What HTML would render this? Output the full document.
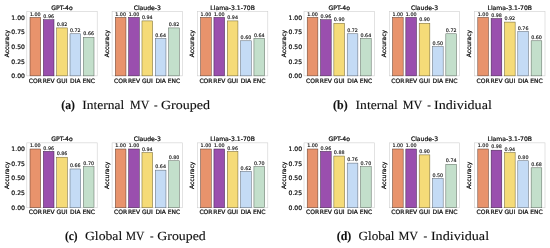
<!DOCTYPE html>
<html lang="en"><head><meta charset="utf-8"><title>Figure</title>
<style>html,body{margin:0;padding:0;background:#fff}svg{display:block}text{text-rendering:geometricPrecision}</style></head>
<body>
<svg width="550" height="248" viewBox="0 0 550 248">
<rect width="550" height="248" fill="#fff"/>
<g font-family="DejaVu Sans, Liberation Sans, sans-serif" fill="#111" stroke="#111" stroke-width="0.24">
<rect x="26.80" y="11.50" width="70.40" height="64.35" fill="#fff" stroke="#cfcfcf" stroke-width="0.6"/>
<text x="62.00" y="9.80" font-size="6.1" text-anchor="middle">GPT-4o</text>
<text transform="translate(8.50,43.67) rotate(-90)" font-size="6.0" text-anchor="middle">Accuracy</text>
<text x="24.90" y="78" font-size="6.1" text-anchor="end">0.00</text>
<text x="24.90" y="64" font-size="6.1" text-anchor="end">0.25</text>
<text x="24.90" y="49" font-size="6.1" text-anchor="end">0.50</text>
<text x="24.90" y="34" font-size="6.1" text-anchor="end">0.75</text>
<text x="24.90" y="20" font-size="6.1" text-anchor="end">1.00</text>
<rect x="30.00" y="17.40" width="10.67" height="58.45" fill="#E8936C" stroke="#5a3a2c" stroke-width="0.5"/>
<text x="35.33" y="15.60" font-size="4.8" stroke-width="0.14" text-anchor="middle">1.00</text>
<text x="35.33" y="82.80" font-size="6.0" text-anchor="middle">COR</text>
<rect x="43.33" y="19.74" width="10.67" height="56.11" fill="#9A4FAE" stroke="#3c2046" stroke-width="0.5"/>
<text x="48.67" y="17.94" font-size="4.8" stroke-width="0.14" text-anchor="middle">0.96</text>
<text x="48.67" y="82.80" font-size="6.0" text-anchor="middle">REV</text>
<rect x="56.67" y="27.92" width="10.67" height="47.93" fill="#F5DB78" stroke="#6a5f30" stroke-width="0.5"/>
<text x="62.00" y="26.12" font-size="4.8" stroke-width="0.14" text-anchor="middle">0.82</text>
<text x="62.00" y="82.80" font-size="6.0" text-anchor="middle">GUI</text>
<rect x="70.00" y="33.77" width="10.67" height="42.08" fill="#C4DBF5" stroke="#59636e" stroke-width="0.5"/>
<text x="75.33" y="31.97" font-size="4.8" stroke-width="0.14" text-anchor="middle">0.72</text>
<text x="75.33" y="82.80" font-size="6.0" text-anchor="middle">DIA</text>
<rect x="83.33" y="37.27" width="10.67" height="38.58" fill="#C3DFCB" stroke="#58645b" stroke-width="0.5"/>
<text x="88.67" y="35.47" font-size="4.8" stroke-width="0.14" text-anchor="middle">0.66</text>
<text x="88.67" y="82.80" font-size="6.0" text-anchor="middle">ENC</text>
<rect x="112.10" y="11.50" width="70.40" height="64.35" fill="#fff" stroke="#cfcfcf" stroke-width="0.6"/>
<text x="147.30" y="9.80" font-size="6.1" text-anchor="middle">Claude-3</text>
<text transform="translate(108.50,43.67) rotate(-90)" font-size="6.0" text-anchor="middle">Accuracy</text>
<rect x="115.30" y="17.40" width="10.67" height="58.45" fill="#E8936C" stroke="#5a3a2c" stroke-width="0.5"/>
<text x="120.63" y="15.60" font-size="4.8" stroke-width="0.14" text-anchor="middle">1.00</text>
<text x="120.63" y="82.80" font-size="6.0" text-anchor="middle">COR</text>
<rect x="128.63" y="17.40" width="10.67" height="58.45" fill="#9A4FAE" stroke="#3c2046" stroke-width="0.5"/>
<text x="133.97" y="15.60" font-size="4.8" stroke-width="0.14" text-anchor="middle">1.00</text>
<text x="133.97" y="82.80" font-size="6.0" text-anchor="middle">REV</text>
<rect x="141.97" y="20.91" width="10.67" height="54.94" fill="#F5DB78" stroke="#6a5f30" stroke-width="0.5"/>
<text x="147.30" y="19.11" font-size="4.8" stroke-width="0.14" text-anchor="middle">0.94</text>
<text x="147.30" y="82.80" font-size="6.0" text-anchor="middle">GUI</text>
<rect x="155.30" y="38.44" width="10.67" height="37.41" fill="#C4DBF5" stroke="#59636e" stroke-width="0.5"/>
<text x="160.63" y="36.64" font-size="4.8" stroke-width="0.14" text-anchor="middle">0.64</text>
<text x="160.63" y="82.80" font-size="6.0" text-anchor="middle">DIA</text>
<rect x="168.63" y="27.92" width="10.67" height="47.93" fill="#C3DFCB" stroke="#58645b" stroke-width="0.5"/>
<text x="173.97" y="26.12" font-size="4.8" stroke-width="0.14" text-anchor="middle">0.82</text>
<text x="173.97" y="82.80" font-size="6.0" text-anchor="middle">ENC</text>
<rect x="197.40" y="11.50" width="70.40" height="64.35" fill="#fff" stroke="#cfcfcf" stroke-width="0.6"/>
<text x="232.60" y="9.80" font-size="6.1" text-anchor="middle">Llama-3.1-70B</text>
<text transform="translate(193.80,43.67) rotate(-90)" font-size="6.0" text-anchor="middle">Accuracy</text>
<rect x="200.60" y="17.40" width="10.67" height="58.45" fill="#E8936C" stroke="#5a3a2c" stroke-width="0.5"/>
<text x="205.93" y="15.60" font-size="4.8" stroke-width="0.14" text-anchor="middle">1.00</text>
<text x="205.93" y="82.80" font-size="6.0" text-anchor="middle">COR</text>
<rect x="213.93" y="17.40" width="10.67" height="58.45" fill="#9A4FAE" stroke="#3c2046" stroke-width="0.5"/>
<text x="219.27" y="15.60" font-size="4.8" stroke-width="0.14" text-anchor="middle">1.00</text>
<text x="219.27" y="82.80" font-size="6.0" text-anchor="middle">REV</text>
<rect x="227.27" y="20.91" width="10.67" height="54.94" fill="#F5DB78" stroke="#6a5f30" stroke-width="0.5"/>
<text x="232.60" y="19.11" font-size="4.8" stroke-width="0.14" text-anchor="middle">0.94</text>
<text x="232.60" y="82.80" font-size="6.0" text-anchor="middle">GUI</text>
<rect x="240.60" y="40.78" width="10.67" height="35.07" fill="#C4DBF5" stroke="#59636e" stroke-width="0.5"/>
<text x="245.93" y="38.98" font-size="4.8" stroke-width="0.14" text-anchor="middle">0.60</text>
<text x="245.93" y="82.80" font-size="6.0" text-anchor="middle">DIA</text>
<rect x="253.93" y="38.44" width="10.67" height="37.41" fill="#C3DFCB" stroke="#58645b" stroke-width="0.5"/>
<text x="259.27" y="36.64" font-size="4.8" stroke-width="0.14" text-anchor="middle">0.64</text>
<text x="259.27" y="82.80" font-size="6.0" text-anchor="middle">ENC</text>
<rect x="304.00" y="11.50" width="70.40" height="64.35" fill="#fff" stroke="#cfcfcf" stroke-width="0.6"/>
<text x="339.20" y="9.80" font-size="6.1" text-anchor="middle">GPT-4o</text>
<text transform="translate(285.70,43.67) rotate(-90)" font-size="6.0" text-anchor="middle">Accuracy</text>
<text x="302.10" y="78" font-size="6.1" text-anchor="end">0.00</text>
<text x="302.10" y="64" font-size="6.1" text-anchor="end">0.25</text>
<text x="302.10" y="49" font-size="6.1" text-anchor="end">0.50</text>
<text x="302.10" y="34" font-size="6.1" text-anchor="end">0.75</text>
<text x="302.10" y="20" font-size="6.1" text-anchor="end">1.00</text>
<rect x="307.20" y="17.40" width="10.67" height="58.45" fill="#E8936C" stroke="#5a3a2c" stroke-width="0.5"/>
<text x="312.53" y="15.60" font-size="4.8" stroke-width="0.14" text-anchor="middle">1.00</text>
<text x="312.53" y="82.80" font-size="6.0" text-anchor="middle">COR</text>
<rect x="320.53" y="19.74" width="10.67" height="56.11" fill="#9A4FAE" stroke="#3c2046" stroke-width="0.5"/>
<text x="325.87" y="17.94" font-size="4.8" stroke-width="0.14" text-anchor="middle">0.96</text>
<text x="325.87" y="82.80" font-size="6.0" text-anchor="middle">REV</text>
<rect x="333.87" y="23.24" width="10.67" height="52.60" fill="#F5DB78" stroke="#6a5f30" stroke-width="0.5"/>
<text x="339.20" y="21.44" font-size="4.8" stroke-width="0.14" text-anchor="middle">0.90</text>
<text x="339.20" y="82.80" font-size="6.0" text-anchor="middle">GUI</text>
<rect x="347.20" y="33.77" width="10.67" height="42.08" fill="#C4DBF5" stroke="#59636e" stroke-width="0.5"/>
<text x="352.53" y="31.97" font-size="4.8" stroke-width="0.14" text-anchor="middle">0.72</text>
<text x="352.53" y="82.80" font-size="6.0" text-anchor="middle">DIA</text>
<rect x="360.53" y="38.44" width="10.67" height="37.41" fill="#C3DFCB" stroke="#58645b" stroke-width="0.5"/>
<text x="365.87" y="36.64" font-size="4.8" stroke-width="0.14" text-anchor="middle">0.64</text>
<text x="365.87" y="82.80" font-size="6.0" text-anchor="middle">ENC</text>
<rect x="389.30" y="11.50" width="70.40" height="64.35" fill="#fff" stroke="#cfcfcf" stroke-width="0.6"/>
<text x="424.50" y="9.80" font-size="6.1" text-anchor="middle">Claude-3</text>
<text transform="translate(385.70,43.67) rotate(-90)" font-size="6.0" text-anchor="middle">Accuracy</text>
<rect x="392.50" y="17.40" width="10.67" height="58.45" fill="#E8936C" stroke="#5a3a2c" stroke-width="0.5"/>
<text x="397.83" y="15.60" font-size="4.8" stroke-width="0.14" text-anchor="middle">1.00</text>
<text x="397.83" y="82.80" font-size="6.0" text-anchor="middle">COR</text>
<rect x="405.83" y="17.40" width="10.67" height="58.45" fill="#9A4FAE" stroke="#3c2046" stroke-width="0.5"/>
<text x="411.17" y="15.60" font-size="4.8" stroke-width="0.14" text-anchor="middle">1.00</text>
<text x="411.17" y="82.80" font-size="6.0" text-anchor="middle">REV</text>
<rect x="419.17" y="23.24" width="10.67" height="52.60" fill="#F5DB78" stroke="#6a5f30" stroke-width="0.5"/>
<text x="424.50" y="21.44" font-size="4.8" stroke-width="0.14" text-anchor="middle">0.90</text>
<text x="424.50" y="82.80" font-size="6.0" text-anchor="middle">GUI</text>
<rect x="432.50" y="46.62" width="10.67" height="29.22" fill="#C4DBF5" stroke="#59636e" stroke-width="0.5"/>
<text x="437.83" y="44.83" font-size="4.8" stroke-width="0.14" text-anchor="middle">0.50</text>
<text x="437.83" y="82.80" font-size="6.0" text-anchor="middle">DIA</text>
<rect x="445.83" y="33.77" width="10.67" height="42.08" fill="#C3DFCB" stroke="#58645b" stroke-width="0.5"/>
<text x="451.17" y="31.97" font-size="4.8" stroke-width="0.14" text-anchor="middle">0.72</text>
<text x="451.17" y="82.80" font-size="6.0" text-anchor="middle">ENC</text>
<rect x="474.60" y="11.50" width="70.40" height="64.35" fill="#fff" stroke="#cfcfcf" stroke-width="0.6"/>
<text x="509.80" y="9.80" font-size="6.1" text-anchor="middle">Llama-3.1-70B</text>
<text transform="translate(471.00,43.67) rotate(-90)" font-size="6.0" text-anchor="middle">Accuracy</text>
<rect x="477.80" y="17.40" width="10.67" height="58.45" fill="#E8936C" stroke="#5a3a2c" stroke-width="0.5"/>
<text x="483.13" y="15.60" font-size="4.8" stroke-width="0.14" text-anchor="middle">1.00</text>
<text x="483.13" y="82.80" font-size="6.0" text-anchor="middle">COR</text>
<rect x="491.13" y="18.57" width="10.67" height="57.28" fill="#9A4FAE" stroke="#3c2046" stroke-width="0.5"/>
<text x="496.47" y="16.77" font-size="4.8" stroke-width="0.14" text-anchor="middle">0.98</text>
<text x="496.47" y="82.80" font-size="6.0" text-anchor="middle">REV</text>
<rect x="504.47" y="22.08" width="10.67" height="53.77" fill="#F5DB78" stroke="#6a5f30" stroke-width="0.5"/>
<text x="509.80" y="20.28" font-size="4.8" stroke-width="0.14" text-anchor="middle">0.92</text>
<text x="509.80" y="82.80" font-size="6.0" text-anchor="middle">GUI</text>
<rect x="517.80" y="31.43" width="10.67" height="44.42" fill="#C4DBF5" stroke="#59636e" stroke-width="0.5"/>
<text x="523.13" y="29.63" font-size="4.8" stroke-width="0.14" text-anchor="middle">0.76</text>
<text x="523.13" y="82.80" font-size="6.0" text-anchor="middle">DIA</text>
<rect x="531.13" y="40.78" width="10.67" height="35.07" fill="#C3DFCB" stroke="#58645b" stroke-width="0.5"/>
<text x="536.47" y="38.98" font-size="4.8" stroke-width="0.14" text-anchor="middle">0.60</text>
<text x="536.47" y="82.80" font-size="6.0" text-anchor="middle">ENC</text>
<rect x="26.80" y="142.85" width="70.40" height="64.90" fill="#fff" stroke="#cfcfcf" stroke-width="0.6"/>
<text x="62.00" y="141.15" font-size="6.1" text-anchor="middle">GPT-4o</text>
<text transform="translate(8.50,175.30) rotate(-90)" font-size="6.0" text-anchor="middle">Accuracy</text>
<text x="24.90" y="210" font-size="6.1" text-anchor="end">0.00</text>
<text x="24.90" y="195" font-size="6.1" text-anchor="end">0.25</text>
<text x="24.90" y="180" font-size="6.1" text-anchor="end">0.50</text>
<text x="24.90" y="166" font-size="6.1" text-anchor="end">0.75</text>
<text x="24.90" y="151" font-size="6.1" text-anchor="end">1.00</text>
<rect x="30.00" y="149.00" width="10.67" height="58.75" fill="#E8936C" stroke="#5a3a2c" stroke-width="0.5"/>
<text x="35.33" y="147.20" font-size="4.8" stroke-width="0.14" text-anchor="middle">1.00</text>
<text x="35.33" y="214.00" font-size="6.0" text-anchor="middle">COR</text>
<rect x="43.33" y="151.35" width="10.67" height="56.40" fill="#9A4FAE" stroke="#3c2046" stroke-width="0.5"/>
<text x="48.67" y="149.55" font-size="4.8" stroke-width="0.14" text-anchor="middle">0.96</text>
<text x="48.67" y="214.00" font-size="6.0" text-anchor="middle">REV</text>
<rect x="56.67" y="157.22" width="10.67" height="50.53" fill="#F5DB78" stroke="#6a5f30" stroke-width="0.5"/>
<text x="62.00" y="155.42" font-size="4.8" stroke-width="0.14" text-anchor="middle">0.86</text>
<text x="62.00" y="214.00" font-size="6.0" text-anchor="middle">GUI</text>
<rect x="70.00" y="168.97" width="10.67" height="38.78" fill="#C4DBF5" stroke="#59636e" stroke-width="0.5"/>
<text x="75.33" y="167.17" font-size="4.8" stroke-width="0.14" text-anchor="middle">0.66</text>
<text x="75.33" y="214.00" font-size="6.0" text-anchor="middle">DIA</text>
<rect x="83.33" y="166.62" width="10.67" height="41.12" fill="#C3DFCB" stroke="#58645b" stroke-width="0.5"/>
<text x="88.67" y="164.82" font-size="4.8" stroke-width="0.14" text-anchor="middle">0.70</text>
<text x="88.67" y="214.00" font-size="6.0" text-anchor="middle">ENC</text>
<rect x="112.10" y="142.85" width="70.40" height="64.90" fill="#fff" stroke="#cfcfcf" stroke-width="0.6"/>
<text x="147.30" y="141.15" font-size="6.1" text-anchor="middle">Claude-3</text>
<text transform="translate(108.50,175.30) rotate(-90)" font-size="6.0" text-anchor="middle">Accuracy</text>
<rect x="115.30" y="149.00" width="10.67" height="58.75" fill="#E8936C" stroke="#5a3a2c" stroke-width="0.5"/>
<text x="120.63" y="147.20" font-size="4.8" stroke-width="0.14" text-anchor="middle">1.00</text>
<text x="120.63" y="214.00" font-size="6.0" text-anchor="middle">COR</text>
<rect x="128.63" y="149.00" width="10.67" height="58.75" fill="#9A4FAE" stroke="#3c2046" stroke-width="0.5"/>
<text x="133.97" y="147.20" font-size="4.8" stroke-width="0.14" text-anchor="middle">1.00</text>
<text x="133.97" y="214.00" font-size="6.0" text-anchor="middle">REV</text>
<rect x="141.97" y="152.53" width="10.67" height="55.22" fill="#F5DB78" stroke="#6a5f30" stroke-width="0.5"/>
<text x="147.30" y="150.72" font-size="4.8" stroke-width="0.14" text-anchor="middle">0.94</text>
<text x="147.30" y="214.00" font-size="6.0" text-anchor="middle">GUI</text>
<rect x="155.30" y="170.15" width="10.67" height="37.60" fill="#C4DBF5" stroke="#59636e" stroke-width="0.5"/>
<text x="160.63" y="168.35" font-size="4.8" stroke-width="0.14" text-anchor="middle">0.64</text>
<text x="160.63" y="214.00" font-size="6.0" text-anchor="middle">DIA</text>
<rect x="168.63" y="160.75" width="10.67" height="47.00" fill="#C3DFCB" stroke="#58645b" stroke-width="0.5"/>
<text x="173.97" y="158.95" font-size="4.8" stroke-width="0.14" text-anchor="middle">0.80</text>
<text x="173.97" y="214.00" font-size="6.0" text-anchor="middle">ENC</text>
<rect x="197.40" y="142.85" width="70.40" height="64.90" fill="#fff" stroke="#cfcfcf" stroke-width="0.6"/>
<text x="232.60" y="141.15" font-size="6.1" text-anchor="middle">Llama-3.1-70B</text>
<text transform="translate(193.80,175.30) rotate(-90)" font-size="6.0" text-anchor="middle">Accuracy</text>
<rect x="200.60" y="149.00" width="10.67" height="58.75" fill="#E8936C" stroke="#5a3a2c" stroke-width="0.5"/>
<text x="205.93" y="147.20" font-size="4.8" stroke-width="0.14" text-anchor="middle">1.00</text>
<text x="205.93" y="214.00" font-size="6.0" text-anchor="middle">COR</text>
<rect x="213.93" y="149.00" width="10.67" height="58.75" fill="#9A4FAE" stroke="#3c2046" stroke-width="0.5"/>
<text x="219.27" y="147.20" font-size="4.8" stroke-width="0.14" text-anchor="middle">1.00</text>
<text x="219.27" y="214.00" font-size="6.0" text-anchor="middle">REV</text>
<rect x="227.27" y="151.35" width="10.67" height="56.40" fill="#F5DB78" stroke="#6a5f30" stroke-width="0.5"/>
<text x="232.60" y="149.55" font-size="4.8" stroke-width="0.14" text-anchor="middle">0.96</text>
<text x="232.60" y="214.00" font-size="6.0" text-anchor="middle">GUI</text>
<rect x="240.60" y="171.32" width="10.67" height="36.43" fill="#C4DBF5" stroke="#59636e" stroke-width="0.5"/>
<text x="245.93" y="169.52" font-size="4.8" stroke-width="0.14" text-anchor="middle">0.62</text>
<text x="245.93" y="214.00" font-size="6.0" text-anchor="middle">DIA</text>
<rect x="253.93" y="166.62" width="10.67" height="41.12" fill="#C3DFCB" stroke="#58645b" stroke-width="0.5"/>
<text x="259.27" y="164.82" font-size="4.8" stroke-width="0.14" text-anchor="middle">0.70</text>
<text x="259.27" y="214.00" font-size="6.0" text-anchor="middle">ENC</text>
<rect x="304.00" y="142.85" width="70.40" height="64.90" fill="#fff" stroke="#cfcfcf" stroke-width="0.6"/>
<text x="339.20" y="141.15" font-size="6.1" text-anchor="middle">GPT-4o</text>
<text transform="translate(285.70,175.30) rotate(-90)" font-size="6.0" text-anchor="middle">Accuracy</text>
<text x="302.10" y="210" font-size="6.1" text-anchor="end">0.00</text>
<text x="302.10" y="195" font-size="6.1" text-anchor="end">0.25</text>
<text x="302.10" y="180" font-size="6.1" text-anchor="end">0.50</text>
<text x="302.10" y="166" font-size="6.1" text-anchor="end">0.75</text>
<text x="302.10" y="151" font-size="6.1" text-anchor="end">1.00</text>
<rect x="307.20" y="149.00" width="10.67" height="58.75" fill="#E8936C" stroke="#5a3a2c" stroke-width="0.5"/>
<text x="312.53" y="147.20" font-size="4.8" stroke-width="0.14" text-anchor="middle">1.00</text>
<text x="312.53" y="214.00" font-size="6.0" text-anchor="middle">COR</text>
<rect x="320.53" y="151.35" width="10.67" height="56.40" fill="#9A4FAE" stroke="#3c2046" stroke-width="0.5"/>
<text x="325.87" y="149.55" font-size="4.8" stroke-width="0.14" text-anchor="middle">0.96</text>
<text x="325.87" y="214.00" font-size="6.0" text-anchor="middle">REV</text>
<rect x="333.87" y="156.05" width="10.67" height="51.70" fill="#F5DB78" stroke="#6a5f30" stroke-width="0.5"/>
<text x="339.20" y="154.25" font-size="4.8" stroke-width="0.14" text-anchor="middle">0.88</text>
<text x="339.20" y="214.00" font-size="6.0" text-anchor="middle">GUI</text>
<rect x="347.20" y="163.10" width="10.67" height="44.65" fill="#C4DBF5" stroke="#59636e" stroke-width="0.5"/>
<text x="352.53" y="161.30" font-size="4.8" stroke-width="0.14" text-anchor="middle">0.76</text>
<text x="352.53" y="214.00" font-size="6.0" text-anchor="middle">DIA</text>
<rect x="360.53" y="166.62" width="10.67" height="41.12" fill="#C3DFCB" stroke="#58645b" stroke-width="0.5"/>
<text x="365.87" y="164.82" font-size="4.8" stroke-width="0.14" text-anchor="middle">0.70</text>
<text x="365.87" y="214.00" font-size="6.0" text-anchor="middle">ENC</text>
<rect x="389.30" y="142.85" width="70.40" height="64.90" fill="#fff" stroke="#cfcfcf" stroke-width="0.6"/>
<text x="424.50" y="141.15" font-size="6.1" text-anchor="middle">Claude-3</text>
<text transform="translate(385.70,175.30) rotate(-90)" font-size="6.0" text-anchor="middle">Accuracy</text>
<rect x="392.50" y="149.00" width="10.67" height="58.75" fill="#E8936C" stroke="#5a3a2c" stroke-width="0.5"/>
<text x="397.83" y="147.20" font-size="4.8" stroke-width="0.14" text-anchor="middle">1.00</text>
<text x="397.83" y="214.00" font-size="6.0" text-anchor="middle">COR</text>
<rect x="405.83" y="149.00" width="10.67" height="58.75" fill="#9A4FAE" stroke="#3c2046" stroke-width="0.5"/>
<text x="411.17" y="147.20" font-size="4.8" stroke-width="0.14" text-anchor="middle">1.00</text>
<text x="411.17" y="214.00" font-size="6.0" text-anchor="middle">REV</text>
<rect x="419.17" y="154.88" width="10.67" height="52.88" fill="#F5DB78" stroke="#6a5f30" stroke-width="0.5"/>
<text x="424.50" y="153.07" font-size="4.8" stroke-width="0.14" text-anchor="middle">0.90</text>
<text x="424.50" y="214.00" font-size="6.0" text-anchor="middle">GUI</text>
<rect x="432.50" y="178.38" width="10.67" height="29.38" fill="#C4DBF5" stroke="#59636e" stroke-width="0.5"/>
<text x="437.83" y="176.57" font-size="4.8" stroke-width="0.14" text-anchor="middle">0.50</text>
<text x="437.83" y="214.00" font-size="6.0" text-anchor="middle">DIA</text>
<rect x="445.83" y="164.28" width="10.67" height="43.47" fill="#C3DFCB" stroke="#58645b" stroke-width="0.5"/>
<text x="451.17" y="162.47" font-size="4.8" stroke-width="0.14" text-anchor="middle">0.74</text>
<text x="451.17" y="214.00" font-size="6.0" text-anchor="middle">ENC</text>
<rect x="474.60" y="142.85" width="70.40" height="64.90" fill="#fff" stroke="#cfcfcf" stroke-width="0.6"/>
<text x="509.80" y="141.15" font-size="6.1" text-anchor="middle">Llama-3.1-70B</text>
<text transform="translate(471.00,175.30) rotate(-90)" font-size="6.0" text-anchor="middle">Accuracy</text>
<rect x="477.80" y="149.00" width="10.67" height="58.75" fill="#E8936C" stroke="#5a3a2c" stroke-width="0.5"/>
<text x="483.13" y="147.20" font-size="4.8" stroke-width="0.14" text-anchor="middle">1.00</text>
<text x="483.13" y="214.00" font-size="6.0" text-anchor="middle">COR</text>
<rect x="491.13" y="150.18" width="10.67" height="57.57" fill="#9A4FAE" stroke="#3c2046" stroke-width="0.5"/>
<text x="496.47" y="148.38" font-size="4.8" stroke-width="0.14" text-anchor="middle">0.98</text>
<text x="496.47" y="214.00" font-size="6.0" text-anchor="middle">REV</text>
<rect x="504.47" y="152.53" width="10.67" height="55.22" fill="#F5DB78" stroke="#6a5f30" stroke-width="0.5"/>
<text x="509.80" y="150.72" font-size="4.8" stroke-width="0.14" text-anchor="middle">0.94</text>
<text x="509.80" y="214.00" font-size="6.0" text-anchor="middle">GUI</text>
<rect x="517.80" y="160.75" width="10.67" height="47.00" fill="#C4DBF5" stroke="#59636e" stroke-width="0.5"/>
<text x="523.13" y="158.95" font-size="4.8" stroke-width="0.14" text-anchor="middle">0.80</text>
<text x="523.13" y="214.00" font-size="6.0" text-anchor="middle">DIA</text>
<rect x="531.13" y="167.80" width="10.67" height="39.95" fill="#C3DFCB" stroke="#58645b" stroke-width="0.5"/>
<text x="536.47" y="166.00" font-size="4.8" stroke-width="0.14" text-anchor="middle">0.68</text>
<text x="536.47" y="214.00" font-size="6.0" text-anchor="middle">ENC</text>
</g>
<g font-family="Liberation Serif, serif" font-size="12.5" fill="#111" stroke="#111" stroke-width="0.12">
<text x="61.30" y="109.10" textLength="13.70" lengthAdjust="spacingAndGlyphs" font-weight="bold">(a)</text>
<text x="82.30" y="109.10" textLength="41.90" lengthAdjust="spacingAndGlyphs">Internal</text>
<text x="130.00" y="109.10" textLength="19.30" lengthAdjust="spacingAndGlyphs">MV</text>
<text x="154.00" y="109.10" textLength="3.60" lengthAdjust="spacingAndGlyphs">-</text>
<text x="160.90" y="109.10" textLength="49.00" lengthAdjust="spacingAndGlyphs">Grouped</text>
<text x="333.10" y="109.10" textLength="14.50" lengthAdjust="spacingAndGlyphs" font-weight="bold">(b)</text>
<text x="355.60" y="109.10" textLength="42.20" lengthAdjust="spacingAndGlyphs">Internal</text>
<text x="402.70" y="109.10" textLength="19.50" lengthAdjust="spacingAndGlyphs">MV</text>
<text x="427.20" y="109.10" textLength="3.60" lengthAdjust="spacingAndGlyphs">-</text>
<text x="434.00" y="109.10" textLength="57.80" lengthAdjust="spacingAndGlyphs">Individual</text>
<text x="65.00" y="240.30" textLength="12.60" lengthAdjust="spacingAndGlyphs" font-weight="bold">(c)</text>
<text x="84.90" y="240.30" textLength="37.40" lengthAdjust="spacingAndGlyphs">Global</text>
<text x="125.80" y="240.30" textLength="18.70" lengthAdjust="spacingAndGlyphs">MV</text>
<text x="150.00" y="240.30" textLength="3.60" lengthAdjust="spacingAndGlyphs">-</text>
<text x="157.30" y="240.30" textLength="48.50" lengthAdjust="spacingAndGlyphs">Grouped</text>
<text x="336.70" y="240.30" textLength="14.60" lengthAdjust="spacingAndGlyphs" font-weight="bold">(d)</text>
<text x="358.50" y="240.30" textLength="36.00" lengthAdjust="spacingAndGlyphs">Global</text>
<text x="398.50" y="240.30" textLength="19.70" lengthAdjust="spacingAndGlyphs">MV</text>
<text x="423.60" y="240.30" textLength="3.70" lengthAdjust="spacingAndGlyphs">-</text>
<text x="430.90" y="240.30" textLength="58.20" lengthAdjust="spacingAndGlyphs">Individual</text>
</g>
</svg>
</body></html>
